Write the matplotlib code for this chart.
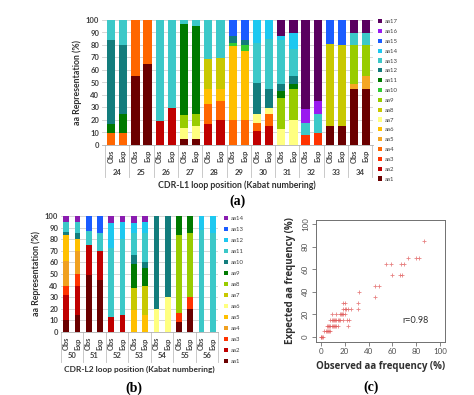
import matplotlib
matplotlib.use("Agg")
import matplotlib.pyplot as plt
import numpy as np
from matplotlib.lines import Line2D

# ---------------- Panel (a): CDR-L1 ----------------
l1_positions = ["24", "25", "26", "27", "28", "29", "30", "31", "32", "33", "34"]
bar_kinds = ["Obs", "Exp"]
l1_aa1 = [0, 0, 55, 65, 0, 0, 5, 5, 0, 0, 0, 0, 0, 0, 0, 0, 0, 0, 15, 15, 45, 45]
l1_aa2 = [0, 0, 0, 0, 19, 30, 0, 0, 17, 20, 0, 0, 11, 15, 0, 0, 0, 0, 0, 0, 0, 0]
l1_aa3 = [0, 0, 0, 0, 0, 0, 0, 0, 0, 0, 0, 0, 0, 0, 0, 0, 8, 10, 0, 0, 0, 0]
l1_aa4 = [10, 10, 45, 35, 0, 0, 0, 0, 16, 15, 20, 20, 7, 10, 0, 0, 0, 0, 0, 0, 0, 0]
l1_aa5 = [0, 0, 0, 0, 0, 0, 0, 0, 0, 0, 0, 0, 0, 0, 0, 0, 0, 0, 0, 0, 4, 10]
l1_aa6 = [0, 0, 0, 0, 0, 0, 0, 0, 12, 10, 59, 55, 0, 0, 0, 0, 0, 0, 0, 0, 0, 0]
l1_aa7 = [0, 0, 0, 0, 0, 0, 9, 10, 0, 0, 0, 0, 7, 5, 13, 20, 0, 0, 0, 0, 0, 0]
l1_aa8 = [0, 0, 0, 0, 0, 0, 0, 0, 24, 25, 0, 0, 0, 0, 0, 0, 0, 0, 66, 65, 0, 0]
l1_aa9 = [0, 0, 0, 0, 0, 0, 10, 10, 0, 0, 0, 0, 0, 0, 25, 25, 0, 0, 0, 0, 31, 25]
l1_aa10 = [0, 0, 0, 0, 0, 0, 0, 0, 0, 0, 3, 5, 0, 0, 0, 0, 0, 0, 0, 0, 0, 0]
l1_aa11 = [7, 15, 0, 0, 0, 0, 73, 70, 0, 0, 0, 0, 0, 0, 5, 4, 0, 0, 0, 0, 0, 0]
l1_aa12 = [67, 55, 0, 0, 0, 0, 0, 0, 0, 0, 5, 4, 25, 15, 6, 6, 0, 0, 0, 0, 0, 0]
l1_aa13 = [16, 20, 0, 0, 81, 70, 3, 5, 31, 30, 0, 0, 32, 40, 35, 22, 10, 15, 0, 0, 10, 10]
l1_aa14 = [0, 0, 0, 0, 0, 0, 0, 0, 0, 0, 0, 0, 18, 15, 3, 13, 0, 0, 0, 0, 0, 0]
l1_aa15 = [0, 0, 0, 0, 0, 0, 0, 0, 0, 0, 13, 16, 0, 0, 0, 0, 0, 0, 19, 20, 0, 0]
l1_aa16 = [0, 0, 0, 0, 0, 0, 0, 0, 0, 0, 0, 0, 0, 0, 0, 0, 11, 10, 0, 0, 0, 0]
l1_aa17 = [0, 0, 0, 0, 0, 0, 0, 0, 0, 0, 0, 0, 0, 0, 13, 10, 71, 65, 0, 0, 10, 10]
l1_series = [l1_aa1, l1_aa2, l1_aa3, l1_aa4, l1_aa5, l1_aa6, l1_aa7, l1_aa8, l1_aa9,
             l1_aa10, l1_aa11, l1_aa12, l1_aa13, l1_aa14, l1_aa15, l1_aa16, l1_aa17]
l1_labels = ["aa%d" % (i + 1) for i in range(17)]
l1_colors = ["#6b0000", "#c00000", "#ff3300", "#ff6600", "#f5a623", "#ffc000",
             "#ffff80", "#c8c800", "#99cc00", "#33cc33", "#007a00", "#137d7d",
             "#3cc8c8", "#1ec8f0", "#1a5cff", "#9a1af0", "#5a0060"]

# ---------------- Panel (b): CDR-L2 ----------------
l2_positions = ["50", "51", "52", "53", "54", "55", "56"]
l2_aa1 = [10, 15, 49, 45, 0, 0, 0, 0, 0, 0, 9, 20, 0, 0]
l2_aa2 = [22, 25, 26, 25, 13, 15, 0, 0, 0, 0, 0, 0, 0, 0]
l2_aa3 = [8, 10, 0, 0, 0, 0, 0, 0, 0, 0, 7, 10, 0, 0]
l2_aa4 = [21, 20, 0, 0, 0, 0, 0, 0, 0, 0, 0, 0, 0, 0]
l2_aa5 = [23, 10, 0, 0, 0, 0, 19, 15, 0, 0, 0, 0, 0, 0]
l2_aa6 = [0, 0, 0, 0, 0, 0, 0, 0, 20, 30, 0, 0, 0, 0]
l2_aa7 = [0, 0, 0, 0, 0, 0, 19, 25, 0, 0, 0, 0, 0, 0]
l2_aa8 = [0, 0, 0, 0, 0, 0, 0, 0, 0, 0, 68, 55, 0, 0]
l2_aa9 = [0, 0, 0, 0, 0, 0, 21, 15, 0, 0, 16, 15, 0, 0]
l2_aa10 = [2, 5, 0, 0, 0, 0, 7, 5, 80, 70, 0, 0, 0, 0]
l2_aa11 = [9, 10, 12, 15, 59, 65, 19, 25, 0, 0, 0, 0, 88, 85]
l2_aa12 = [0, 0, 0, 0, 22, 15, 9, 10, 0, 0, 0, 0, 12, 15]
l2_aa13 = [0, 0, 13, 15, 0, 0, 0, 0, 0, 0, 0, 0, 0, 0]
l2_aa14 = [5, 5, 0, 0, 6, 5, 6, 5, 0, 0, 0, 0, 0, 0]
l2_series = [l2_aa1, l2_aa2, l2_aa3, l2_aa4, l2_aa5, l2_aa6, l2_aa7, l2_aa8, l2_aa9,
             l2_aa10, l2_aa11, l2_aa12, l2_aa13, l2_aa14]
l2_labels = ["aa%d" % (i + 1) for i in range(14)]
l2_colors = ["#6b0000", "#c00000", "#ff3300", "#f0a020", "#ffc000", "#ffff80",
             "#c8c800", "#99cc00", "#007a00", "#137d7d", "#3cc8c8", "#1ec8f0",
             "#1a5cff", "#8a1cb0"]

# ---------------- Panel (c): scatter ----------------
obs_freq = [0, 0.5, 1, 1.5, 3, 4, 5, 6, 7, 8,
            5, 6, 7, 8, 9, 10, 11, 12, 13, 14,
            8, 9, 10, 11, 12, 13, 14, 15, 16, 19, 22, 24,
            9, 13, 16, 17, 18, 19, 20,
            19, 20, 21, 23, 25,
            23, 19, 20, 31, 31, 32, 45, 49, 45,
            55, 59, 60, 66, 68, 67, 70, 73, 80, 82, 86]
exp_freq = [0, 0, 0, 0, 5, 5, 5, 5, 5, 5,
            10, 10, 10, 10, 10, 10, 10, 10, 10, 10,
            15, 15, 15, 15, 15, 15, 15, 15, 15, 15, 15, 15,
            20, 20, 20, 20, 20, 20, 20,
            25, 25, 25, 25, 25,
            10, 30, 30, 30, 25, 40, 45, 45, 35,
            65, 65, 55, 55, 55, 65, 65, 70, 70, 70, 85]
r_value = 0.98

W, H = 474, 395
fig = plt.figure(figsize=(W / 100, H / 100), dpi=100)
FONT = "Lato"
plt.rcParams["font.family"] = [FONT, "DejaVu Sans"]
tick_col = "#404040"


def fx(px):
    return px / W


def fy(py):
    return 1 - py / H


def stacked(ax, series, colors, labels, positions, width, xlim, cat_off, num_off,
            sep_len):
    n = len(series[0])
    x = np.arange(n)
    bottom = np.zeros(n)
    handles = []
    for vals, c, lab in zip(series, colors, labels):
        v = np.array(vals, dtype=float)
        b = ax.bar(x, v, width, bottom=bottom, color=c, label=lab, zorder=3,
                   linewidth=0)
        handles.append(b)
        bottom += v
    ax.set_xlim(*xlim)
    ax.set_ylim(0, 100)
    ax.set_yticks(np.arange(0, 101, 10))
    ax.yaxis.grid(True, color="#d0d0d0", linewidth=0.6, zorder=0)
    ax.set_axisbelow(True)
    for s in ["top", "right", "left"]:
        ax.spines[s].set_visible(False)
    ax.spines["bottom"].set_color("#b0b0b0")
    ax.spines["bottom"].set_linewidth(0.6)
    ax.tick_params(axis="y", length=0, labelsize=5.5, labelcolor=tick_col, pad=2)
    for t in ax.get_yticklabels():
        t.set_fontweight("bold")
    ax.set_xticks([])
    trans = ax.get_xaxis_transform()
    for i in range(n):
        ax.text(x[i], cat_off, bar_kinds[i % 2], rotation=90, ha="center",
                va="center", fontsize=5.3, color=tick_col, fontweight="bold",
                transform=trans)
    for g, p in enumerate(positions):
        ax.text(2 * g + 0.5, num_off, p, ha="center", va="center", fontsize=5.5,
                color=tick_col, fontweight="bold", transform=trans)
    for g in range(len(positions) + 1):
        ax.add_line(Line2D([2 * g - 0.5, 2 * g - 0.5], [0, -sep_len],
                           transform=trans, color="#c0c0c0", linewidth=0.6,
                           clip_on=False))
    ax.set_ylabel("aa Representation (%)", fontsize=6.3, fontweight="bold",
                  color="#303030", labelpad=3)
    return handles


# Panel (a)
ax1 = fig.add_axes([fx(102), fy(145), fx(373 - 102), (145 - 20) / H])
h1 = stacked(ax1, l1_series, l1_colors, l1_labels, l1_positions, 0.68,
             (-0.75, 21.55), -0.09, -0.22, 0.26)
fig.text(fx(236.5), fy(185), "CDR-L1 loop position (Kabat numbering)",
         ha="center", va="center", fontsize=6.3, fontweight="bold", color="#303030")
leg1 = fig.legend(handles=h1[::-1], labels=l1_labels[::-1], loc="upper left",
                  bbox_to_anchor=(fx(378), fy(19)), frameon=False, fontsize=4.3,
                  handlelength=0.7, handleheight=0.7, handletextpad=0.4,
                  labelspacing=0.78, borderpad=0, borderaxespad=0)
for t in leg1.get_texts():
    t.set_color(tick_col)
fig.text(fx(237), fy(201), "(a)", ha="center", va="center", fontsize=10,
         fontweight="bold", family="Liberation Serif")

# Panel (b)
ax2 = fig.add_axes([fx(61), fy(332), fx(218 - 61), (332 - 216) / H])
h2 = stacked(ax2, l2_series, l2_colors, l2_labels, l2_positions, 0.5,
             (-0.46, 13.46), -0.1, -0.2, 0.26)
fig.text(fx(139), fy(369), "CDR-L2 loop position (Kabat numbering)",
         ha="center", va="center", fontsize=6.0, fontweight="bold", color="#303030")
leg2 = fig.legend(handles=h2[::-1], labels=l2_labels[::-1], loc="upper left",
                  bbox_to_anchor=(fx(224), fy(216)), frameon=False, fontsize=4.3,
                  handlelength=0.7, handleheight=0.7, handletextpad=0.4,
                  labelspacing=0.97, borderpad=0, borderaxespad=0)
for t in leg2.get_texts():
    t.set_color(tick_col)
fig.text(fx(134), fy(388), "(b)", ha="center", va="center", fontsize=10,
         fontweight="bold", family="Liberation Serif")

# Panel (c)
ax3 = fig.add_axes([fx(316), fy(341.5), fx(445 - 316), (341.5 - 219.5) / H])
ax3.scatter(obs_freq, exp_freq, marker="+", s=8, color="#e05a5a", linewidths=0.6,
            alpha=0.75, zorder=3)
ax3.set_xlim(-4, 104)
ax3.set_ylim(-4, 104)
ax3.set_xticks(np.arange(0, 101, 20))
ax3.set_yticks(np.arange(0, 101, 20))
for s in ax3.spines.values():
    s.set_color("#707070")
    s.set_linewidth(0.7)
ax3.tick_params(axis="both", labelsize=5.8, labelcolor="#505050", color="#707070",
                length=3, width=0.6, pad=2)
plt.setp(ax3.get_yticklabels(), rotation=90, va="center")
ax3.set_xlabel("Observed aa frequency (%)", fontsize=7, fontweight="bold",
               color="#303030", labelpad=4, family="Open Sans")
ax3.set_ylabel("Expected aa frequency (%)", fontsize=7, fontweight="bold",
               color="#303030", labelpad=4, family="Open Sans")
ax3.text(79, 15, "r=%.2f" % r_value, ha="center", va="center", fontsize=6.5,
         color="#303030")
fig.text(fx(371), fy(387), "(c)", ha="center", va="center", fontsize=10,
         fontweight="bold", family="Liberation Serif")

fig.savefig("out.png", dpi=100)
